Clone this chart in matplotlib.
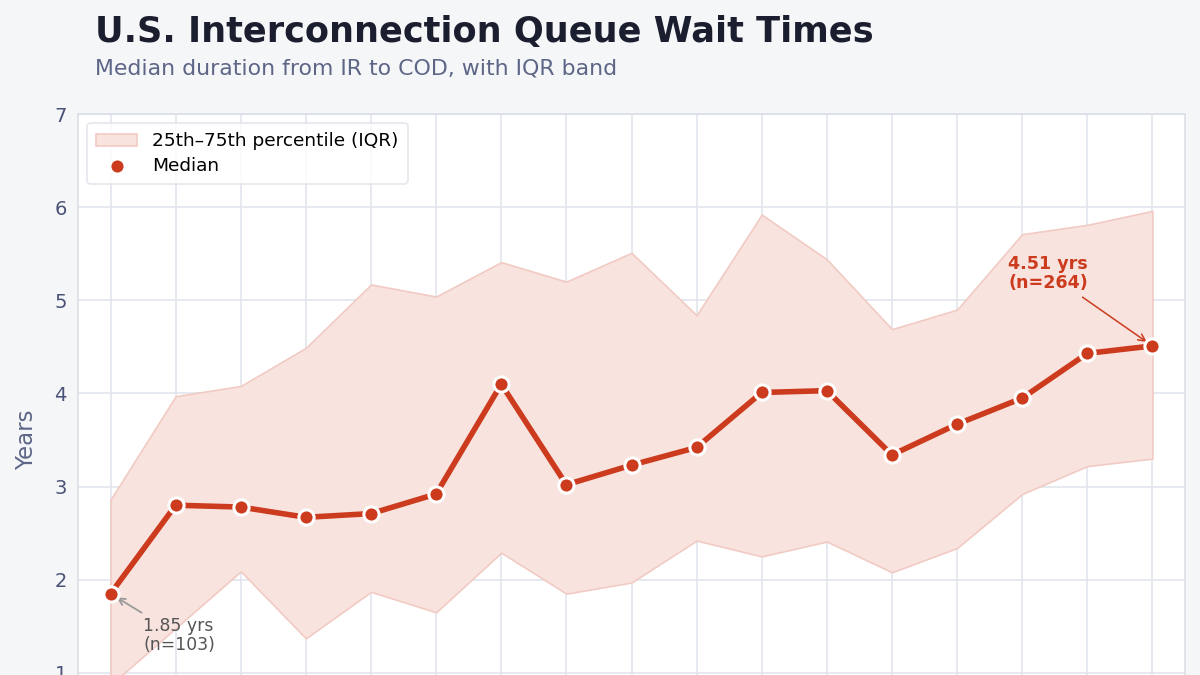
import matplotlib
matplotlib.use("Agg")
import matplotlib.pyplot as plt
import numpy as np

years = [str(y) for y in range(2005, 2022)]
median = [1.85, 2.80, 2.78, 2.67, 2.71, 2.92, 4.10, 3.02, 3.23, 3.42, 4.01, 4.03, 3.34, 3.67, 3.95, 4.43, 4.51]
q75 = [2.86, 3.97, 4.08, 4.49, 5.17, 5.04, 5.41, 5.20, 5.51, 4.84, 5.92, 5.44, 4.69, 4.90, 5.71, 5.81, 5.96]
q25 = [0.87, 1.48, 2.09, 1.37, 1.87, 1.65, 2.29, 1.85, 1.97, 2.42, 2.25, 2.41, 2.08, 2.34, 2.92, 3.22, 3.30]
n_first, n_last = 103, 264

RED = "#cc3b1d"
BG = "#f5f6f8"
GRID = "#e3e5ee"

fig = plt.figure(figsize=(12, 6.75), dpi=100, facecolor=BG)
# axes extends below the visible canvas (chart is cropped at the bottom)
ax = fig.add_axes([0.065, -0.1348, 0.9225, 0.9659])
ax.set_facecolor("white")

x = np.arange(len(years))
ax.fill_between(x, q25, q75, facecolor="#f8e3df", edgecolor="#f1cbc3", linewidth=1.2,
                label="25th\u201375th percentile (IQR)", zorder=2)
ax.plot(x, median, color=RED, linewidth=4, zorder=3)
ax.scatter(x, median, s=120, color=RED, edgecolor="white", linewidth=2.2, zorder=4, label="Median")

ax.set_xlim(-0.5, len(years) - 0.5)
ax.set_ylim(0, 7)
ax.set_xticks(x)
ax.set_xticklabels(years)
ax.set_yticks([0, 1, 2, 3, 4, 5, 6, 7])
ax.grid(True, color=GRID, linewidth=1.2, zorder=0)
ax.set_axisbelow(True)
for s in ax.spines.values():
    s.set_color("#dcdfe8")
    s.set_linewidth(1.2)
ax.tick_params(axis="both", length=0, labelsize=14, labelcolor="#4b5278", pad=8)
ax.tick_params(axis="x", labelbottom=False)
ax.set_ylabel("Years", fontsize=16.5, color="#5d6687", labelpad=12)

leg = ax.legend(loc="upper left", fontsize=13.3, frameon=True, fancybox=True,
                borderpad=0.5, handlelength=2.2, labelspacing=0.35, bbox_to_anchor=(0.0, 1.0))
leg.get_frame().set_edgecolor("#dfe2ea")
leg.get_frame().set_linewidth(1.2)

ax.annotate(f"{median[0]:.2f} yrs\n(n={n_first})", xy=(x[0], median[0]),
            xytext=(x[0] + 0.5, median[0] - 0.45), fontsize=12.4, color="#555555",
            ha="left", va="center", linespacing=1.1,
            arrowprops=dict(arrowstyle="->", color="#999999", lw=1.3, shrinkA=2, shrinkB=5))
ax.annotate(f"{median[-1]:.2f} yrs\n(n={n_last})", xy=(x[-1], median[-1]),
            xytext=(x[-1] - 1.6, median[-1] + 0.78), fontsize=12.6, color=RED,
            fontweight="bold", ha="center", va="center", linespacing=1.1,
            arrowprops=dict(arrowstyle="->", color=RED, lw=1.1, shrinkA=3, shrinkB=5))

fig.text(0.079, 0.953, "U.S. Interconnection Queue Wait Times", fontsize=25.3, fontweight="bold",
         color="#1b1e2e", ha="left", va="center")
fig.text(0.079, 0.899, "Median duration from IR to COD, with IQR band", fontsize=15.8,
         color="#5d6687", ha="left", va="center")

fig.savefig("out.png", dpi=100, facecolor=BG)
